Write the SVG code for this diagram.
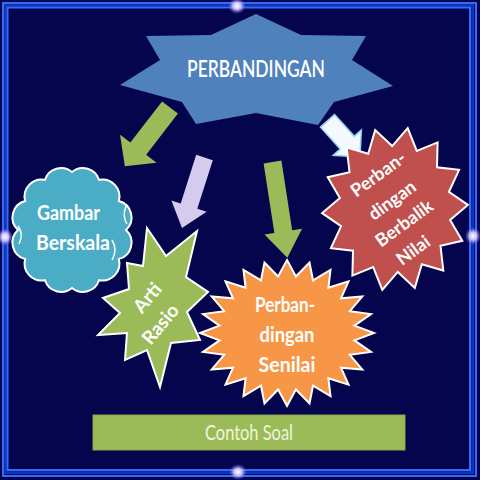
<svg xmlns="http://www.w3.org/2000/svg" width="480" height="480" viewBox="0 0 480 480">
<defs>
<style>
.lbl{font-family:Lato,"Liberation Sans","DejaVu Sans",sans-serif;font-weight:bold;fill:#ffffff;text-anchor:middle}
.node{stroke:#ffffff;stroke-width:2;stroke-linejoin:miter}
.frame{fill:none;stroke:#2f6bff;stroke-width:2}
</style>
<radialGradient id="glow" cx="0.5" cy="0.5" r="0.5">
<stop offset="0" stop-color="#ffffff" stop-opacity="1"/>
<stop offset="0.45" stop-color="#d8ccff" stop-opacity="0.9"/>
<stop offset="1" stop-color="#7060ff" stop-opacity="0"/>
</radialGradient>
</defs>
<rect x="0" y="0" width="480" height="480" fill="#05054e"/>
<g id="frame">
<rect x="5.2" y="5.2" width="467.5" height="467.5" fill="none" stroke="#1632b4" stroke-width="3"/>
<rect class="frame" x="3" y="3" width="473" height="473"/>
<rect class="frame" x="7.5" y="7.5" width="462.5" height="462.5"/>
<ellipse cx="237" cy="6" rx="9" ry="8" fill="url(#glow)"/>
<ellipse cx="5" cy="237" rx="8" ry="9" fill="url(#glow)"/>
<ellipse cx="473" cy="236" rx="8" ry="9" fill="url(#glow)"/>
<ellipse cx="238" cy="472" rx="9" ry="8" fill="url(#glow)"/>
</g>
<g id="connectors">
<path d="M0,-10 L52,-10 L52,-23 L74,0 L52,23 L52,10 L0,10 Z" fill="#9bbb59" transform="translate(170,107.5) rotate(127.6)"/>
<path d="M0,-8.7 L51,-8.7 L51,-18.5 L74,0 L51,18.5 L51,8.7 L0,8.7 Z" fill="#d4cbef" transform="translate(204.5,157.5) rotate(107.7)"/>
<path d="M0,-9 L70.5,-9 L70.5,-19 L97,0 L70.5,19 L70.5,9 L0,9 Z" fill="#9bbb59" transform="translate(272.5,162) rotate(81.2)"/>
<path d="M0,-9.5 L29.5,-9.5 L29.5,-19 L48.5,0 L29.5,19 L29.5,9.5 L0,9.5 Z" fill="#f4f9ff" stroke="#8fd3f0" stroke-width="1.5" transform="translate(327.5,120.8) rotate(48)"/>
</g>
<g id="perbandingan">
<path d="M256,14 L301,35 L366,36 L352,60 L393,86 L334,102 L318,125 L256,113 L196,124 L182,102 L120,85 L160,60 L146,36 L211,35 Z" fill="#4f81bd"/>
<text class="lbl" x="256" y="77" font-size="22" style="font-weight:600" textLength="138" lengthAdjust="spacingAndGlyphs">PERBANDINGAN</text>
</g>
<g id="gambar-berskala">
<path class="node" fill="#4bacc6" d="M126,230 A17,17 0 0 1 118.8,259 A17,17 0 0 1 99,280.2 A17,17 0 0 1 72,288 A17,17 0 0 1 45,280.2 A17,17 0 0 1 25.2,259 A17,17 0 0 1 18,230 A17,17 0 0 1 25.2,201 A17,17 0 0 1 45,179.8 A17,17 0 0 1 72,172 A17,17 0 0 1 99,179.8 A17,17 0 0 1 118.8,201 A17,17 0 0 1 126,230 Z"/>
<path d="M18,226 Q24,234 19,244 M126,206 Q122,216 127,224 M112,240 Q118,250 112,260" fill="none" stroke="#ffffff" stroke-width="1.5"/>
<text class="lbl" x="68.5" y="220" font-size="20" textLength="63" lengthAdjust="spacingAndGlyphs">Gambar</text>
<text class="lbl" x="73" y="250" font-size="20" textLength="74" lengthAdjust="spacingAndGlyphs">Berskala</text>
</g>
<g id="arti-rasio">
<path class="node" fill="#9bbb59" d="M147,228 L166,256 L197,231 L186,277 L208,292 L187,312 L200,340 L171,343 L160,387 L147,350 L125,360 L127,333 L98,335 L120,313 L103,298 L129,289 L127,263 L143,266 Z"/>
<text class="lbl" font-size="19" transform="translate(147,297.5) rotate(-50)" y="7">Arti</text>
<text class="lbl" font-size="19" transform="translate(160,324) rotate(-50)" y="7">Rasio</text>
</g>
<g id="senilai">
<path class="node" fill="#f79646" d="M287,260 L295.9,276.5 L309.5,262.5 L313,280.3 L330.5,269.8 L328.4,287.8 L348.5,281.4 L341,298.3 L362.3,296.5 L349.8,311.2 L371,314.1 L354.4,325.6 L374,333 L354.4,340.4 L371,351.9 L349.8,354.8 L362.3,369.5 L341,367.7 L348.5,384.6 L328.4,378.2 L330.5,396.2 L313,385.7 L309.5,403.5 L295.9,389.5 L287,406 L278.1,389.5 L264.5,403.5 L261,385.7 L243.5,396.2 L245.6,378.2 L225.5,384.6 L233,367.7 L211.7,369.5 L224.2,354.8 L203,351.9 L219.6,340.4 L200,333 L219.6,325.6 L203,314.1 L224.2,311.2 L211.7,296.5 L233,298.3 L225.5,281.4 L245.6,287.8 L243.5,269.8 L261,280.3 L264.5,262.5 L278.1,276.5 Z"/>
<text class="lbl" x="285" y="312" font-size="20" textLength="60" lengthAdjust="spacingAndGlyphs">Perban-</text>
<text class="lbl" x="287" y="342" font-size="20" textLength="55" lengthAdjust="spacingAndGlyphs">dingan</text>
<text class="lbl" x="287" y="372" font-size="20" textLength="57" lengthAdjust="spacingAndGlyphs">Senilai</text>
</g>
<g id="berbalik-nilai">
<path class="node" fill="#c0504d" d="M407.7,128.2 L416.8,150.9 L437.6,142.4 L437,167.3 L459.1,169.8 L448.9,191.9 L467.9,204.9 L450.1,219.9 L462.3,240.8 L440.5,245.8 L443.3,270.5 L421.8,264.3 L414.8,287.9 L397.8,271.9 L382.3,289.8 L373.2,267.1 L352.4,275.6 L353,250.7 L330.9,248.2 L341.1,226.1 L322.1,213.1 L339.9,198.1 L327.7,177.2 L349.5,172.2 L346.7,147.5 L368.2,153.7 L375.2,130.1 L392.2,146.1 Z"/>
<text class="lbl" font-size="18" transform="translate(378,174) rotate(-36)" y="6.5">Perban-</text>
<text class="lbl" font-size="18" transform="translate(392,200) rotate(-36)" y="6.5">dingan</text>
<text class="lbl" font-size="18" transform="translate(404,223) rotate(-36)" y="6.5">Berbalik</text>
<text class="lbl" font-size="18" transform="translate(413,250) rotate(-36)" y="6.5">Nilai</text>
</g>
<g id="contoh-soal">
<rect x="93" y="415" width="312" height="35" fill="#9bbb59" stroke="#86a64a" stroke-width="1"/>
<text class="lbl" x="249" y="440" font-size="21" style="fill:#f0f6da;font-weight:normal" textLength="88" lengthAdjust="spacingAndGlyphs">Contoh Soal</text>
</g>
</svg>
